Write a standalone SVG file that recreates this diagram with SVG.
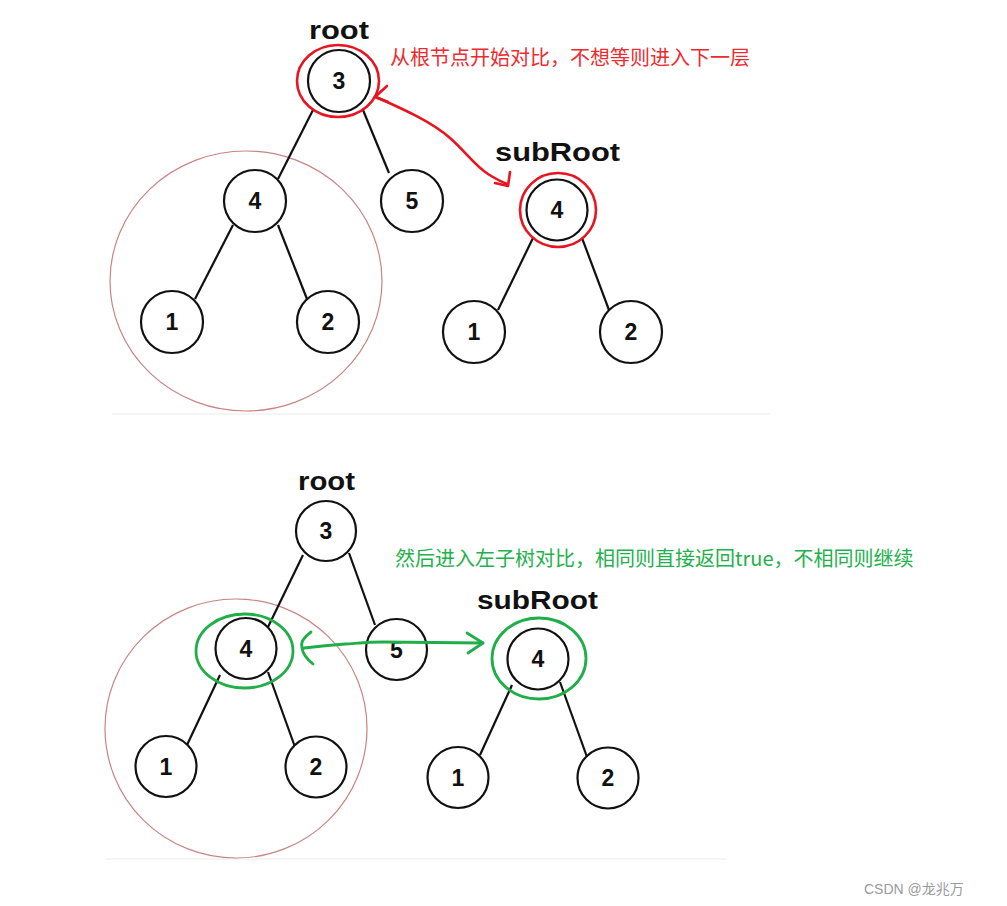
<svg xmlns="http://www.w3.org/2000/svg" width="1007" height="906" viewBox="0 0 1007 906">
<style>
.node circle{fill:#fff;stroke:#111;stroke-width:2.2}
.num{font-family:"Liberation Sans",Arial,sans-serif;font-weight:bold;font-size:23px;text-anchor:middle;fill:#111}
.lbl{font-family:"Liberation Sans",Arial,sans-serif;font-weight:bold;font-size:25px;fill:#111}
.edge{stroke:#111;stroke-width:2.2;fill:none}
.big{fill:none;stroke:#c98484;stroke-width:1.2}
.red{fill:none;stroke:#e8141f;stroke-width:2.6;stroke-linecap:round;stroke-linejoin:round}
.green{fill:none;stroke:#1fae48;stroke-width:2.8;stroke-linecap:round;stroke-linejoin:round}
.cn{font-family:"Noto Sans CJK SC","Noto Sans",sans-serif;font-size:20px}
.sep{stroke:#ececec;stroke-width:1.2}
</style>
<rect width="1007" height="906" fill="#fff"/>

<!-- separators -->
<line class="sep" x1="112" y1="414" x2="770" y2="414"/>
<line class="sep" x1="105" y1="859" x2="727" y2="859"/>

<!-- big highlight circles -->
<ellipse class="big" cx="246" cy="281" rx="136" ry="130"/>
<ellipse class="big" cx="236" cy="728.5" rx="131" ry="129.5"/>

<g id="connectors">
  <!-- top root tree -->
  <line class="edge" x1="313" y1="110" x2="278" y2="179"/>
  <line class="edge" x1="363" y1="110" x2="389" y2="173"/>
  <line class="edge" x1="233" y1="225" x2="195" y2="299"/>
  <line class="edge" x1="278" y1="225" x2="307" y2="299"/>
  <!-- top subRoot tree -->
  <line class="edge" x1="533" y1="238" x2="498" y2="310"/>
  <line class="edge" x1="582" y1="238" x2="609" y2="310"/>
  <!-- bottom root tree -->
  <line class="edge" x1="303" y1="555" x2="268" y2="627"/>
  <line class="edge" x1="349" y1="553" x2="375" y2="625"/>
  <line class="edge" x1="220" y1="675" x2="187" y2="745"/>
  <line class="edge" x1="268" y1="672" x2="295" y2="747"/>
  <!-- bottom subRoot tree -->
  <line class="edge" x1="512" y1="685" x2="480" y2="755"/>
  <line class="edge" x1="560" y1="682" x2="587" y2="757"/>
</g>

<!-- top root -->
<text class="lbl" x="309" y="39" textLength="60" lengthAdjust="spacingAndGlyphs">root</text>
<g id="t-root-3" class="node"><circle cx="339" cy="81" r="31"/><text class="num" x="339" y="89">3</text></g>
<g id="t-root-4" class="node"><circle cx="255" cy="201" r="31"/><text class="num" x="255" y="209">4</text></g>
<g id="t-root-5" class="node"><circle cx="412" cy="201" r="31"/><text class="num" x="412" y="209">5</text></g>
<g id="t-root-1" class="node"><circle cx="172" cy="322" r="31"/><text class="num" x="172" y="330">1</text></g>
<g id="t-root-2" class="node"><circle cx="328" cy="322" r="31"/><text class="num" x="328" y="330">2</text></g>

<!-- top subRoot -->
<text class="lbl" x="495" y="161" textLength="125" lengthAdjust="spacingAndGlyphs">subRoot</text>
<g id="t-sub-4" class="node"><circle cx="557" cy="210" r="30.5"/><text class="num" x="557" y="218">4</text></g>
<g id="t-sub-1" class="node"><circle cx="474" cy="332" r="31"/><text class="num" x="474" y="340">1</text></g>
<g id="t-sub-2" class="node"><circle cx="631" cy="332" r="31"/><text class="num" x="631" y="340">2</text></g>

<!-- red annotations -->
<g id="red-annotation">
  <ellipse class="red" cx="338" cy="81" rx="41" ry="36"/>
  <ellipse class="red" cx="558" cy="210" rx="38" ry="37"/>
  <path class="red" d="M376,97 C405,110 432,122 450,138 C466,152 474,165 488,174 C496,179 502,182 507,184"/>
  <path class="red" d="M387,86 L375,97 L388,102"/>
  <path class="red" d="M510,172 L508,186 L495,183"/>
  <text class="cn" x="390" y="65" fill="#ee2a2f">从根节点开始对比，不想等则进入下一层</text>
</g>

<!-- bottom root -->
<text class="lbl" x="298" y="490" textLength="57" lengthAdjust="spacingAndGlyphs">root</text>
<g id="b-root-3" class="node"><circle cx="326" cy="531" r="30"/><text class="num" x="326" y="539">3</text></g>
<g id="b-root-4" class="node"><circle cx="246" cy="648.5" r="30.5"/><text class="num" x="246" y="656.5">4</text></g>
<g id="b-root-5" class="node"><circle cx="396.5" cy="649.5" r="30.5"/><text class="num" x="396.5" y="657.5">5</text></g>
<g id="b-root-1" class="node"><circle cx="166" cy="766.5" r="30.5"/><text class="num" x="166" y="774.5">1</text></g>
<g id="b-root-2" class="node"><circle cx="316" cy="767" r="30.5"/><text class="num" x="316" y="775">2</text></g>

<!-- bottom subRoot -->
<text class="lbl" x="477" y="609" textLength="121" lengthAdjust="spacingAndGlyphs">subRoot</text>
<g id="b-sub-4" class="node"><circle cx="538" cy="659" r="30.5"/><text class="num" x="538" y="667">4</text></g>
<g id="b-sub-1" class="node"><circle cx="458" cy="777.5" r="30.5"/><text class="num" x="458" y="785.5">1</text></g>
<g id="b-sub-2" class="node"><circle cx="608" cy="778" r="30.5"/><text class="num" x="608" y="786">2</text></g>

<!-- green annotations -->
<g id="green-annotation">
  <ellipse class="green" cx="244.5" cy="651" rx="48.5" ry="37"/>
  <ellipse class="green" cx="539" cy="658.5" rx="47" ry="40.5"/>
  <path class="green" d="M304,648 C320,646 330,645 345,644 C360,643 370,642 383,642 L483,643"/>
  <path class="green" d="M311,632 C304,637 300,642 302,648 C303,655 308,660 313,664"/>
  <path class="green" d="M467,633 L483,643 L468,653"/>
  <text class="cn" x="395" y="566" fill="#22b14c">然后进入左子树对比，相同则直接返回true，不相同则继续</text>
</g>

<text x="864" y="894" font-family="'Liberation Sans','Noto Sans CJK SC',sans-serif" font-size="14" fill="#9a9a9a">CSDN @龙兆万</text>
</svg>
